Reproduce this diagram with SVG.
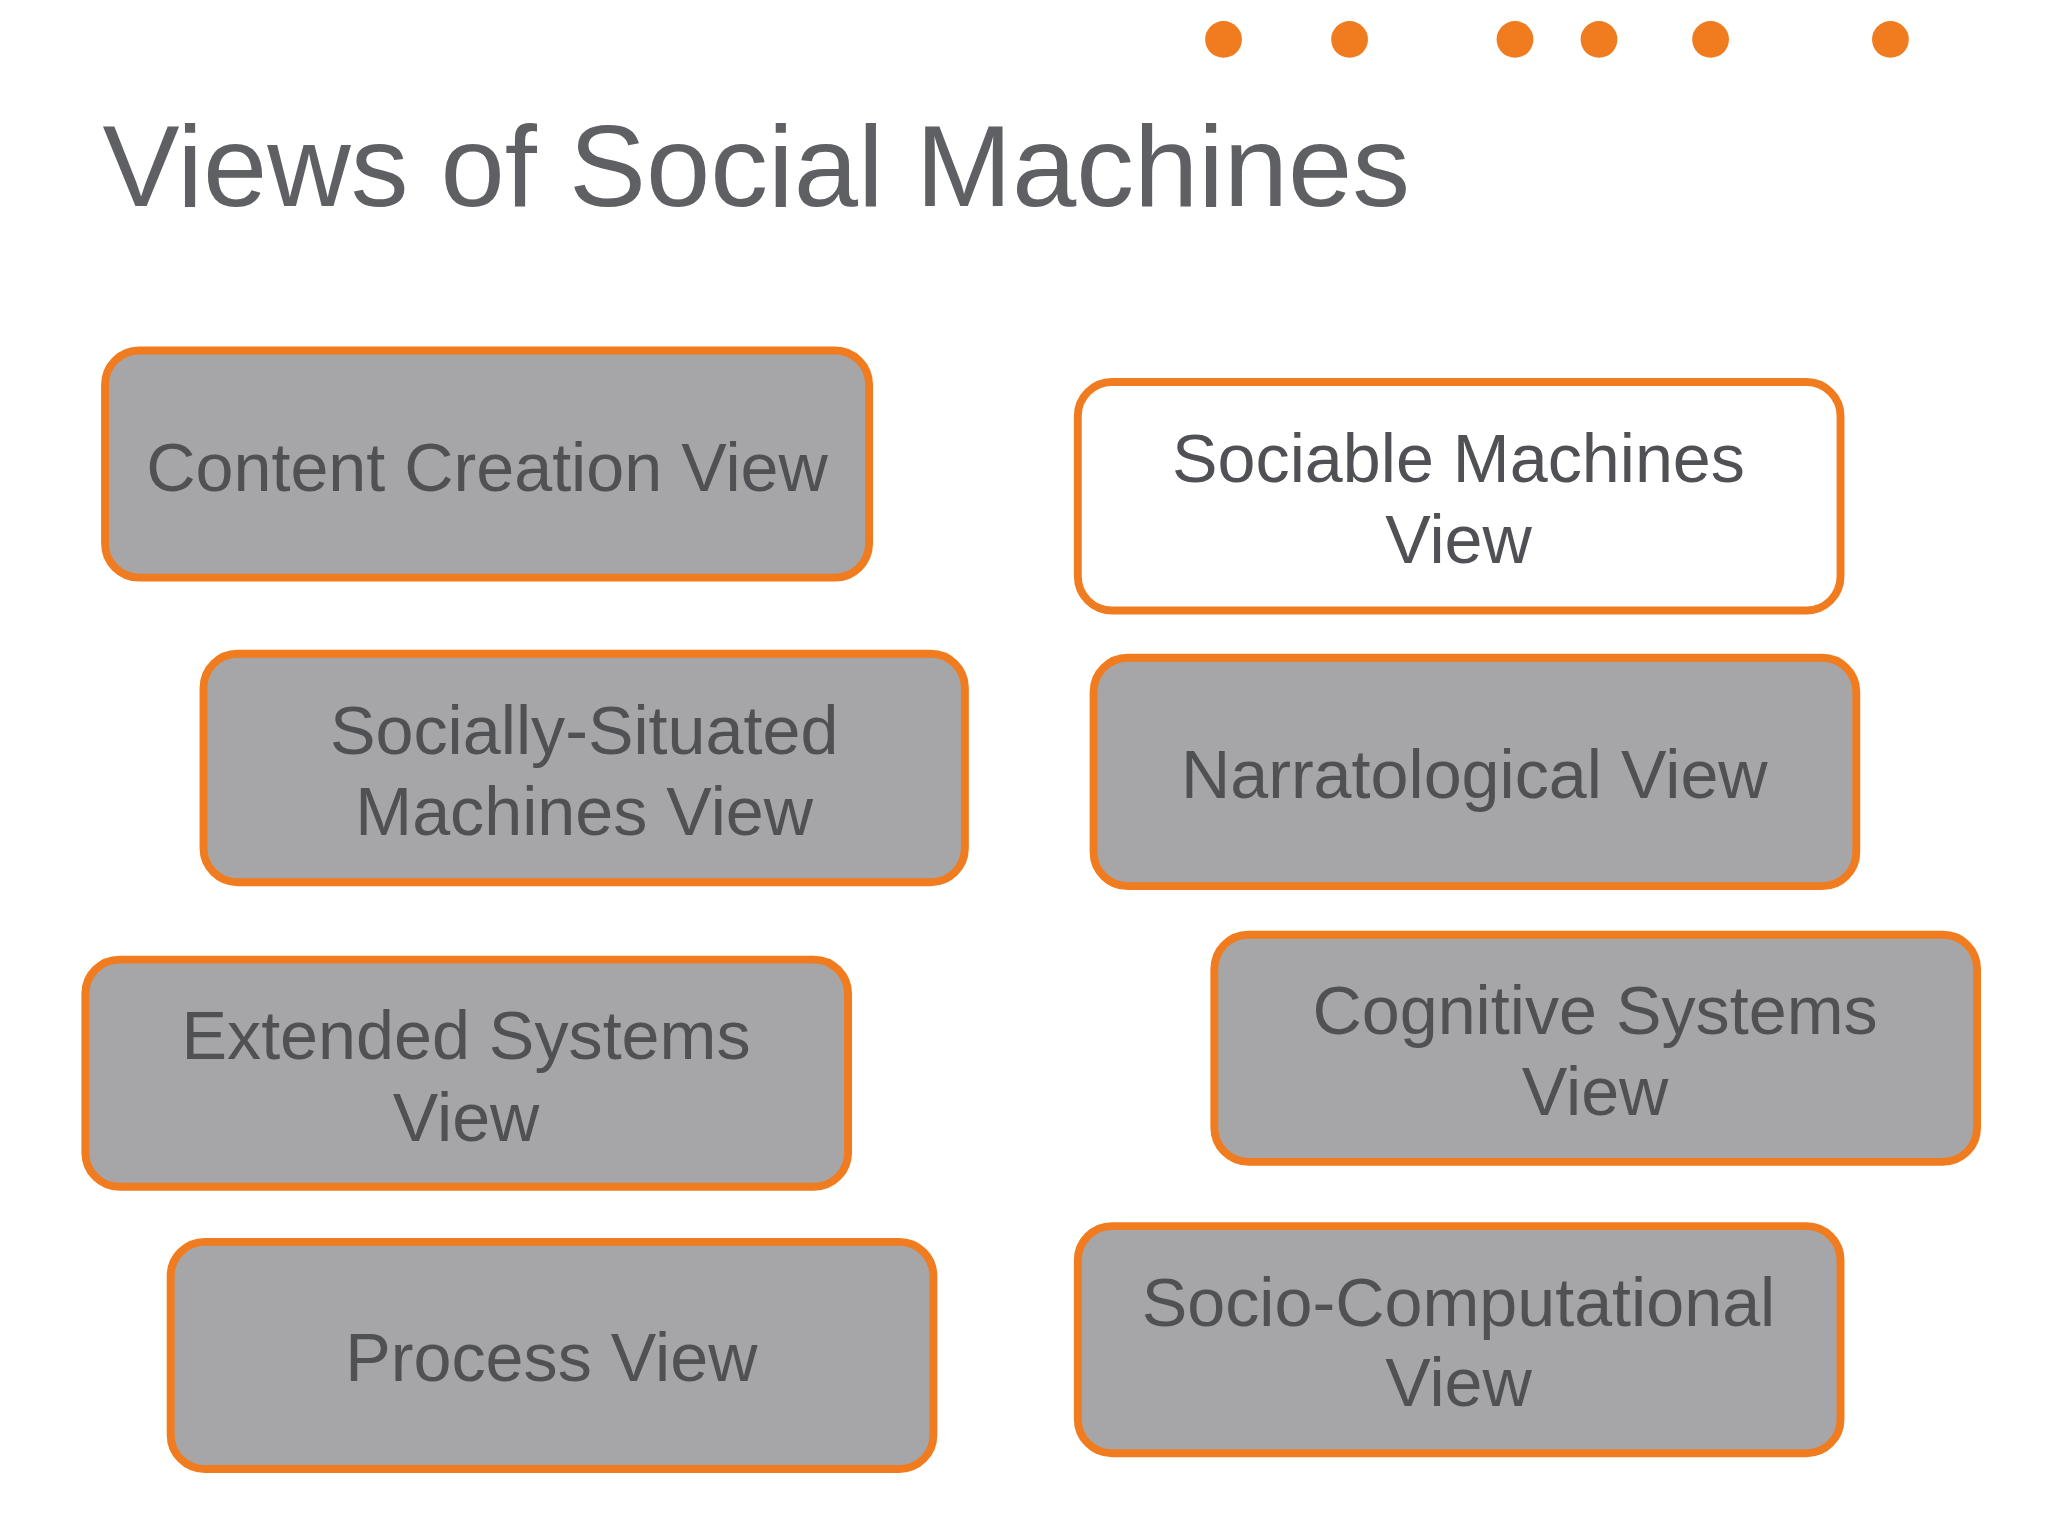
<svg xmlns="http://www.w3.org/2000/svg" width="2048" height="1536" viewBox="0 0 2048 1536">
<style>
.b{fill:#a6a5a7;stroke:#f07c1f;stroke-width:6}
.w{fill:#ffffff;stroke:#f07c1f;stroke-width:6}
.t{font-family:"Liberation Sans",Arial,sans-serif;font-size:52px;fill:#505155;text-anchor:middle}
.d{fill:#f07c1f}
</style>
<rect width="2048" height="1536" fill="#ffffff"/>
<g transform="scale(1.3128)">
<g id="dots">
<circle class="d" cx="932" cy="30" r="14"/><circle class="d" cx="1028" cy="30" r="14"/>
<circle class="d" cx="1154" cy="30" r="14"/><circle class="d" cx="1218" cy="30" r="14"/>
<circle class="d" cx="1303" cy="30" r="14"/><circle class="d" cx="1440" cy="30" r="14"/>
</g>
<text id="title" x="78" y="157" font-family="Liberation Sans,Arial,sans-serif" font-size="88" fill="#5f6064">Views of Social Machines</text>
<g id="n1"><rect class="b" x="80" y="267" width="582" height="173" rx="26"/><text class="t" x="371" y="374">Content Creation View</text></g>
<g id="n2"><rect class="w" x="821" y="291" width="581" height="174" rx="26"/><text class="t" x="1111" y="367">Sociable Machines</text><text class="t" x="1111" y="429">View</text></g>
<g id="n3"><rect class="b" x="155" y="498" width="580" height="174" rx="26"/><text class="t" x="445" y="574">Socially-Situated</text><text class="t" x="445" y="636">Machines View</text></g>
<g id="n4"><rect class="b" x="833" y="501" width="581" height="174" rx="26"/><text class="t" x="1123" y="608">Narratological View</text></g>
<g id="n5"><rect class="b" x="65" y="731" width="581" height="173" rx="26"/><text class="t" x="355" y="807">Extended Systems</text><text class="t" x="355" y="869">View</text></g>
<g id="n6"><rect class="b" x="925" y="712" width="581" height="173" rx="26"/><text class="t" x="1215" y="788">Cognitive Systems</text><text class="t" x="1215" y="849">View</text></g>
<g id="n7"><rect class="b" x="130" y="946" width="581" height="173" rx="26"/><text class="t" x="420" y="1052">Process View</text></g>
<g id="n8"><rect class="b" x="821" y="934" width="581" height="173" rx="26"/><text class="t" x="1111" y="1010">Socio-Computational</text><text class="t" x="1111" y="1071">View</text></g>
<g id="connectors"/>
</g>
</svg>
